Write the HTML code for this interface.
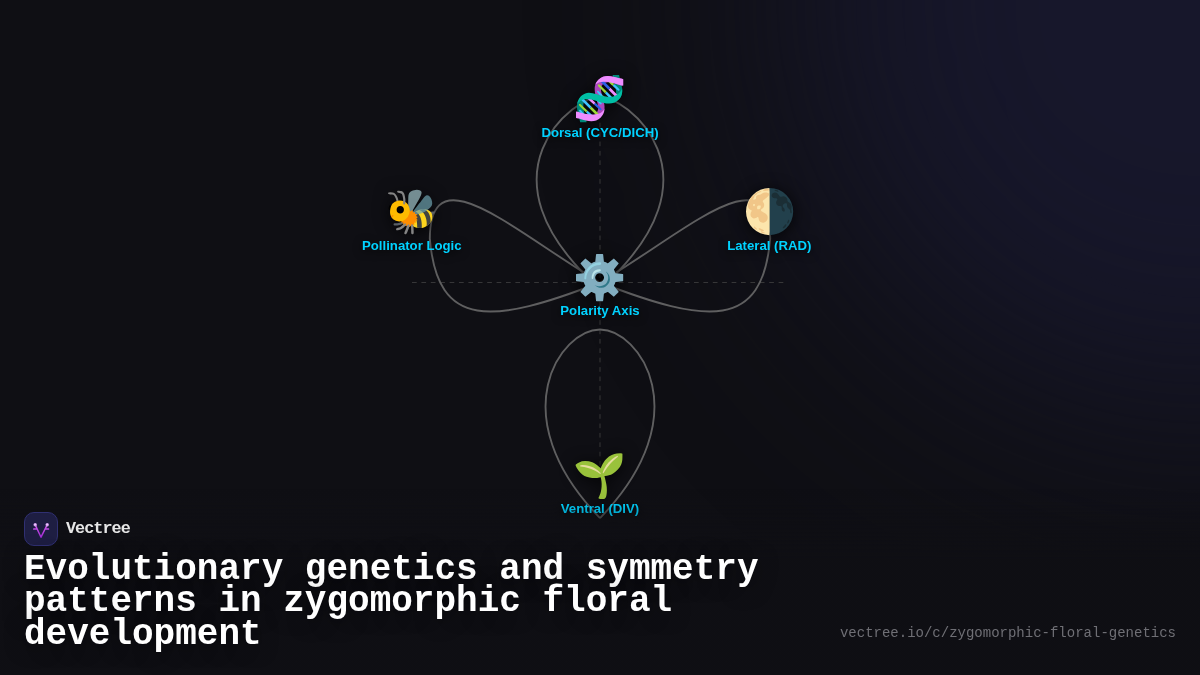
<!DOCTYPE html>
<html lang="en">
<head>
<meta charset="utf-8">
<title>Evolutionary genetics and symmetry patterns in zygomorphic floral development</title>
<style>
*{box-sizing:border-box;margin:0;padding:0}
html,body{width:1200px;height:675px;overflow:hidden;background:#0f0f14}
body{position:relative;font-family:"Liberation Sans",sans-serif}
.bg{position:absolute;left:0;top:0;width:1200px;height:675px;overflow:hidden;background:#0f0f14}
.orb{position:absolute;left:790px;top:-410px;width:820px;height:820px;border-radius:50%;background:rgb(23,23,43);filter:blur(115px)}
.layer{position:absolute;left:0;top:0;width:1200px;height:675px;will-change:transform}
.petals{position:absolute;left:0;top:0;width:1200px;height:675px}
.ico{position:absolute;display:block;overflow:visible;filter:drop-shadow(0 2px 8px rgba(0,0,0,.8))}
.lbl{position:absolute;transform:translateX(-50%);white-space:nowrap;font:700 13.2px/16px "Liberation Sans",sans-serif;color:#00d2ff;text-shadow:0 2px 8px rgba(0,0,0,.8)}
.fade{position:absolute;left:0;top:488px;width:1200px;height:187px;background:linear-gradient(to bottom,rgba(15,15,20,0) 0,rgba(15,15,20,.015) 9px,rgba(15,15,20,.055) 16px,rgba(15,15,20,.205) 25px,rgba(15,15,20,.3) 30px,rgba(15,15,20,.6) 45px,rgba(15,15,20,.85) 60px,rgba(15,15,20,.97) 72px,rgba(15,15,20,.97) 100%)}
.brand{position:absolute;left:24px;top:512px;display:flex;align-items:center}
.logo{width:34px;height:34px;border-radius:10px;background:#1e1e42;border:1px solid #303072;display:block;position:relative}
.logo svg{position:absolute;left:-1px;top:-1px;width:34px;height:34px;display:block}
.brand span{margin-left:8px;font:700 16.8px/20px "Liberation Mono",monospace;letter-spacing:-0.95px;color:#e6e6e6}
h1{position:absolute;left:24px;top:553.9px;width:800px;font:700 36px/32.4px "Liberation Mono",monospace;color:#fff;letter-spacing:0;text-shadow:0 2px 20px rgba(0,0,0,.5)}
.url{position:absolute;right:24px;top:624px;font:400 14px/18px "Liberation Mono",monospace;color:#6f6f75}
</style>
</head>
<body>
<div class="bg"><div class="orb"></div></div>
<svg class="petals" viewBox="0 0 1200 675" fill="none" stroke="#5f5f60" stroke-width="1.88">
  <g stroke="#3a3a3b" stroke-width="0.94" stroke-dasharray="4.7 4.7">
    <path d="M600,94.5 V470.5"/>
    <path d="M412,282.5 H788"/>
  </g>
  <path d="M600,288.9 C469.8,173.6 577,94.9 600,96.8 C623,94.9 730.2,173.6 600,288.9"/>
  <path d="M600,282.5 C513.2,230.7 430.4,152.5 429.8,238.7 C437.6,330.2 492.2,324.2 600,282.5"/>
  <path d="M600,282.5 C686.8,230.7 769.6,152.5 770.2,238.7 C762.4,330.2 707.8,324.2 600,282.5"/>
  <path d="M600,518.1 C500,414.7 561,329.5 600,329.5 C639,329.5 700,414.7 600,518.1"/>
</svg>
<div class="layer">
<svg class="ico" role="img" aria-label="🧬" style="left:575.90px;top:74.90px" width="47.2" height="47.2" viewBox="75 -913 1125 1125"><title>🧬</title><path d="M186,-387Q135,-336 115.5,-277Q96,-218 98,-155.5Q100,-93 114,-30.5Q128,32 144,91Q154,125 161.5,155Q169,185 174,212L327,212Q321,172 310.5,131Q300,90 290,51Q278,10 266,-43.5Q254,-97 250,-155.5Q246,-214 256,-270Q266,-326 298,-372Q322,-407 349,-431Q376,-455 411,-467Q352,-467 294,-452Q236,-437 186,-387Z" fill="#00897B"/><path d="M1131,-791Q1122,-825 1114.5,-855Q1107,-885 1102,-913L948,-913Q955,-872 965.5,-831Q976,-790 986,-751Q1010,-664 1024.5,-572.5Q1039,-481 1026,-391Q1024,-372 1015.5,-348Q1007,-324 997,-301.5Q987,-279 979.5,-264.5Q972,-250 972,-250Q972,-250 988,-256Q1004,-262 1026,-275Q1059,-294 1087,-322Q1138,-373 1158,-430.5Q1178,-488 1176.5,-549Q1175,-610 1161.5,-671.5Q1148,-733 1131,-791Z" fill="#00897B"/><path d="M716,-693Q751,-728 796.5,-735.5Q842,-743 901.5,-731.5Q961,-720 1038,-699Q1078,-688 1118.5,-677.5Q1159,-667 1200,-661L1200,-814Q1173,-819 1142.5,-827Q1112,-835 1079,-844Q1020,-860 959,-873.5Q898,-887 837,-888.5Q776,-890 718.5,-870.5Q661,-851 610,-799Q558,-748 538.5,-690.5Q519,-633 520.5,-572.5Q522,-512 535.5,-450.5Q549,-389 565,-331Q586,-253 597.5,-193.5Q609,-134 601.5,-88.5Q594,-43 559,-8Q554,-3 540.5,6Q527,15 513,22.5Q499,30 492,31Q518,29 549.5,29.5Q581,30 612,28Q643,26 666,13Q709,-10 729.5,-44Q750,-78 754,-118.5Q758,-159 751,-203Q744,-247 732,-290Q720,-333 710,-370Q689,-448 677.5,-507.5Q666,-567 673.5,-612.5Q681,-658 716,-693Z" fill="#AB47BC"/><path d="M359,114L273,15L233,55L314,160Q323,169 336,169Q350,169 359,160L359,160Q368,150 368,136.5Q368,123 359,114Z" fill="#F9A825"/><path d="M160,-83Q146,-73 149,-61Q152,-49 156,-45L233,55L273,15L196,-74Q192,-78 180.5,-84Q169,-90 160,-83Z" fill="#40C4FF"/><path d="M514,90L351,-63L311,-24L469,135Q478,145 492,145Q505,145 514,135Q524,126 524,112.5Q524,99 514,90Z" fill="#40C4FF"/><path d="M152,-219Q141,-209 146.5,-197Q152,-185 160,-176L311,-24L351,-63L198,-205Q189,-214 175.5,-221Q162,-228 152,-219Z" fill="#9ED839"/><path d="M604,0L446,-158L400,-113L559,45Q568,55 581.5,55Q595,55 604,45Q613,36 613,22.5Q613,9 604,0Z" fill="#9ED839"/><path d="M176,-350Q176,-337 186,-327L400,-113L446,-158L232,-373Q222,-382 208.5,-382Q195,-382 186,-373Q176,-363 176,-350Z" fill="#40C4FF"/><path d="M672,-123L539,-251L499,-211L648,-78Q657,-68 668,-73.5Q679,-79 679,-79Q688,-88 684.5,-101Q681,-114 672,-123Z" fill="#2E5FE6"/><path d="M319,-388Q319,-374 328,-365L499,-211L539,-251L374,-410Q364,-420 351,-420Q338,-420 328,-410Q319,-401 319,-388Z" fill="#EE8CFF"/><path d="M673,-258L618,-330L579,-291Q601,-269 619,-250.5Q637,-232 642,-227Q657,-212 668.5,-212Q680,-212 685,-219Q691,-226 686.5,-237.5Q682,-249 673,-258Z" fill="#40C4FF"/><path d="M471,-415Q471,-402 480,-392Q480,-392 495,-376.5Q510,-361 533,-338Q556,-315 579,-291L618,-330L579,-379L526,-438Q516,-447 503,-447Q490,-447 480,-438Q471,-428 471,-415Z" fill="#F9A825"/><path d="M808,-335L715,-428L677,-389Q698,-364 717.5,-341Q737,-318 749.5,-303.5Q762,-289 762,-289Q772,-280 785.5,-280Q799,-280 808,-289L808,-289Q817,-299 817,-312.5Q817,-326 808,-335Z" fill="#9ED839"/><path d="M584,-537Q572,-529 578,-514.5Q584,-500 588,-495Q593,-488 619.5,-456.5Q646,-425 677,-389L715,-428L707,-436L615,-528Q611,-532 601.5,-537.5Q592,-543 584,-537Z" fill="#40C4FF"/><path d="M963,-359L805,-518L765,-477L918,-314Q927,-304 940.5,-304Q954,-304 963,-314Q973,-323 973,-336.5Q973,-350 963,-359Z" fill="#40C4FF"/><path d="M597,-680Q592,-672 597.5,-661Q603,-650 607,-645L765,-477L805,-518L643,-680Q626,-694 615.5,-692.5Q605,-691 597,-680Z" fill="#9ED839"/><path d="M1053,-449L895,-608L850,-562L1008,-403Q1017,-394 1030.5,-394Q1044,-394 1053,-403Q1063,-413 1063,-426.5Q1063,-440 1053,-449Z" fill="#EE8CFF"/><path d="M658,-768Q658,-761 657.5,-758.5Q657,-756 661,-751L850,-562L895,-608L713,-791Q704,-800 690.5,-800Q677,-800 667,-791Q658,-781 658,-768Z" fill="#2E5FE6"/><path d="M1083,-601L985,-698L946,-658Q985,-622 1017.5,-593Q1050,-564 1059,-556Q1082,-538 1093.5,-538.5Q1105,-539 1111,-549Q1117,-559 1109,-571.5Q1101,-584 1083,-601Z" fill="#40C4FF"/><path d="M768,-836Q768,-823 777,-814Q777,-814 792,-800Q807,-786 832,-763Q857,-740 886.5,-712.5Q916,-685 946,-658L985,-698L823,-859Q813,-869 799.5,-869Q786,-869 777,-859Q768,-850 768,-836Z" fill="#9ED839"/><path d="M659,-10Q612,13 555.5,22Q499,31 441.5,29Q384,27 331,18Q278,9 237,-2Q197,-13 156.5,-23.5Q116,-34 75,-40L75,113Q102,118 132.5,126Q163,134 196,143Q255,159 316,173Q377,187 438,188Q499,189 556.5,169.5Q614,150 665,98Q715,49 735,-7.5Q755,-64 755,-123Q743,-89 720,-59Q697,-29 659,-10Z" fill="#EE8CFF"/><path d="M671,-748Q731,-756 794,-749.5Q857,-743 918.5,-729Q980,-715 1038,-699Q1078,-688 1118.5,-677.5Q1159,-667 1200,-661L1200,-814Q1173,-820 1142.5,-827.5Q1112,-835 1079,-844Q1020,-860 959,-874Q898,-888 837,-889Q776,-890 718.5,-870.5Q661,-851 610,-800Q582,-771 562,-739Q549,-717 543,-701Q537,-685 537,-685Q537,-685 554.5,-698.5Q572,-712 602.5,-727.5Q633,-743 671,-748Z" fill="#EE8CFF"/><path d="M1087,-322Q1134,-369 1153.5,-415Q1173,-461 1176,-499.5Q1179,-538 1176,-564Q1173,-590 1174,-597Q1168,-566 1147.5,-535Q1127,-504 1104,-483Q1038,-422 965.5,-402.5Q893,-383 816,-391.5Q739,-400 658,-422Q650,-425 623.5,-435Q597,-445 558,-457.5Q519,-470 473.5,-479Q428,-488 382,-488.5Q336,-489 296,-474Q246,-456 212,-425Q178,-394 156,-358.5Q134,-323 122.5,-291.5Q111,-260 106.5,-239.5Q102,-219 102,-219Q137,-272 184.5,-298.5Q232,-325 285,-332Q338,-339 390.5,-333.5Q443,-328 489.5,-316.5Q536,-305 569.5,-293Q603,-281 618,-277Q676,-261 737.5,-247.5Q799,-234 860,-232.5Q921,-231 978.5,-251Q1036,-271 1087,-322Z" fill="#00BFA5"/></svg>
<div class="lbl" style="left:600.00px;top:125.01px">Dorsal (CYC/DICH)</div>
<svg class="ico" role="img" aria-label="🐝" style="left:387.70px;top:187.90px" width="47.2" height="47.2" viewBox="75 -913 1125 1125"><title>🐝</title><path d="M1086,-344L1124,-256Q1124,-256 1135.5,-268.5Q1147,-281 1162,-298.5Q1177,-316 1188,-331Q1199,-346 1197,-351Q1195,-353 1178.5,-352.5Q1162,-352 1140,-350Q1118,-348 1102,-346Q1086,-344 1086,-344Z" fill="#5C6063"/><path d="M694,-312L663,-16Q663,-16 676.5,-4Q690,8 721.5,21Q753,34 809,38Q878,44 930,26Q982,8 1019.5,-22.5Q1057,-53 1084,-86Q1122,-132 1130,-192.5Q1138,-253 1116,-311Q1102,-347 1059.5,-371Q1017,-395 962.5,-404Q908,-413 855,-401Q803,-390 767,-368.5Q731,-347 712.5,-329.5Q694,-312 694,-312Z" fill="#FCD41E"/><path d="M966,-234Q949,-279 925,-309Q901,-339 877,-357.5Q853,-376 837,-384Q821,-392 821,-392Q821,-392 843,-399Q865,-406 888,-409Q911,-411 928,-408.5Q945,-406 945,-406Q945,-406 966,-394Q987,-382 1014.5,-355Q1042,-328 1061,-284Q1075,-251 1081.5,-217Q1088,-183 1089.5,-154.5Q1091,-126 1090,-108.5Q1089,-91 1089,-91Q1089,-91 1079.5,-78.5Q1070,-66 1055,-51Q1043,-40 1029,-29.5Q1015,-19 1005,-12.5Q995,-6 995,-6Q995,-6 996.5,-16.5Q998,-27 999,-54Q999,-81 993,-130.5Q987,-180 966,-234Z" fill="#414340"/><path d="M739,-351L694,-315L688,-254Q688,-254 698.5,-241Q709,-228 722.5,-209Q736,-190 743,-172Q757,-141 762.5,-105.5Q768,-70 769.5,-38.5Q771,-7 770,13.5Q769,34 769,34Q769,34 788.5,37.5Q808,41 823,41Q845,42 862.5,40Q880,38 880,38Q880,38 880.5,13Q881,-12 879,-52Q877,-92 869,-136Q861,-180 845,-219Q824,-268 799.5,-297Q775,-326 757,-338.5Q739,-351 739,-351Z" fill="#414340"/><path d="M412,-110L476,-80Q476,-80 449,-67Q422,-54 391,-42Q359,-31 325,-24.5Q291,-18 266,-17Q250,-16 229.5,-17.5Q209,-19 208,-37Q206,-58 215,-64Q224,-70 233,-71Q242,-71 266.5,-73Q291,-75 323,-81Q344,-86 364.5,-92.5Q385,-99 398.5,-104.5Q412,-110 412,-110Z" fill="#5A6066"/><path d="M659,-338L682,-268Q682,-268 722.5,-274.5Q763,-281 837,-300Q873,-309 913,-328.5Q953,-348 990,-372.5Q1027,-397 1057,-422.5Q1087,-448 1103,-469Q1128,-500 1129,-544.5Q1130,-589 1114,-635Q1098,-682 1068.5,-710.5Q1039,-739 1004,-738Q981,-737 960,-719Q939,-701 921,-676.5Q903,-652 890,-634Q883,-625 863.5,-599.5Q844,-574 817.5,-540.5Q791,-507 763.5,-472Q736,-437 712,-406.5Q688,-376 673.5,-357Q659,-338 659,-338Z" fill="#6DA3AF" opacity="0.7"/><path d="M651,-357L652,-304L546,-320L558,-433Q558,-433 557.5,-457Q557,-481 557,-519.5Q557,-558 557,-600.5Q557,-643 558.5,-682Q560,-721 564,-745Q571,-802 617.5,-829.5Q664,-857 726,-866Q787,-875 828,-857Q869,-839 874,-817Q880,-788 863,-748.5Q846,-709 823,-664Q814,-646 794,-610Q774,-574 749.5,-530.5Q725,-487 702.5,-447.5Q680,-408 665.5,-382.5Q651,-357 651,-357Z" fill="#A1C5CB" opacity="0.7"/><path d="M170,-505L143,-384Q143,-384 132.5,-383Q122,-382 110,-387Q98,-392 92,-409Q86,-426 95,-462Q102,-492 114.5,-503Q127,-514 139.5,-514Q152,-514 161,-509.5Q170,-505 170,-505Z"/><path d="M327,-598L282,-584Q282,-584 277.5,-600Q273,-616 267.5,-636.5Q262,-657 257,-669Q253,-681 243.5,-699Q234,-717 222.5,-732.5Q211,-748 201,-751Q192,-753 170.5,-755.5Q149,-758 127,-761Q111,-762 93,-767Q75,-772 75,-790Q75,-805 91.5,-807Q108,-809 129,-809Q159,-808 186,-804.5Q213,-801 224,-795Q235,-789 255,-766.5Q275,-744 292,-710Q303,-687 311,-661Q319,-635 323,-616.5Q327,-598 327,-598Z" fill="#848484"/><path d="M587,-395L506,-309L399,-139Q399,-139 397,-128.5Q395,-118 393.5,-106.5Q392,-95 393,-92Q395,-90 405.5,-89.5Q416,-89 426.5,-89.5Q437,-90 437,-90Q437,-90 437,-78.5Q437,-67 438,-52Q439,-37 440.5,-24.5Q442,-12 444,-11Q447,-9 464,-9.5Q481,-10 497.5,-11.5Q514,-13 514,-13L543,15Q543,15 551.5,17.5Q560,20 579,16Q591,14 604.5,3Q618,-8 628,-17.5Q638,-27 638,-27Q638,-27 648,-29.5Q658,-32 672,-35Q686,-38 697,-41Q708,-44 709,-45Q711,-47 706,-57Q701,-67 695.5,-76Q690,-85 690,-85Q690,-85 701.5,-85Q713,-85 725.5,-86Q738,-87 739,-89Q740,-91 738,-102.5Q736,-114 734,-125Q732,-136 732,-136Q732,-136 742.5,-136.5Q753,-137 764,-139.5Q775,-142 776,-146Q777,-150 770.5,-160.5Q764,-171 757,-179.5Q750,-188 750,-188Q750,-188 757.5,-194Q765,-200 773,-207.5Q781,-215 781,-218Q782,-221 772.5,-228Q763,-235 754,-241Q745,-247 745,-247Q745,-247 750.5,-256Q756,-265 761,-275Q766,-285 765,-287Q765,-289 753,-290.5Q741,-292 729.5,-293Q718,-294 718,-294Q718,-294 718.5,-304Q719,-314 718.5,-324.5Q718,-335 715,-337Q713,-339 702.5,-337Q692,-335 682.5,-333Q673,-331 673,-331Q673,-331 670,-344.5Q667,-358 663,-372Q659,-386 657,-386Q654,-387 642.5,-378.5Q631,-370 621,-362Q611,-354 611,-354Z" fill="#FE8D00"/><path d="M501,-64Q516,-53 510,-38Q504,-23 498,-17Q493,-13 479,-0.5Q465,12 449.5,26Q434,40 424,47Q413,56 387,69Q361,82 336,89Q311,96 292,95.5Q273,95 269,81Q265,69 269,57.5Q273,46 307,37Q345,27 368,14Q391,1 404.5,-12Q418,-25 430,-34Q438,-40 449.5,-50.5Q461,-61 474.5,-67Q488,-73 501,-64Z" fill="#848484"/><path d="M572,-43Q590,-36 588.5,-19Q587,-2 585,5Q581,16 570,52Q566,64 558,85Q550,106 541.5,126.5Q533,147 529,156Q522,170 510.5,184Q499,198 476,186Q462,179 463,165Q464,151 471,135Q478,119 483,108Q488,97 496,76Q504,55 512,33Q520,11 525,-5Q534,-29 545,-39.5Q556,-50 572,-43Z" fill="#848484"/><path d="M645,-47Q665,-49 672.5,-36Q680,-23 681,-6.5Q682,10 682,17Q683,23 683.5,42Q684,61 685.5,83.5Q687,106 687.5,123.5Q688,141 688,145Q687,151 686,161.5Q685,172 679,181Q673,190 658,190Q635,191 631,174.5Q627,158 628,145Q628,136 627.5,110.5Q627,85 625.5,58.5Q624,32 623,19Q622,6 621.5,-8.5Q621,-23 625.5,-34Q630,-45 645,-47Z" fill="#848484"/><path d="M185,-542Q237,-597 307.5,-610Q378,-623 451,-598Q511,-576 546,-527Q581,-478 589.5,-417Q598,-356 581,-299Q555,-210 488.5,-161Q422,-112 339,-115Q255,-119 206.5,-159.5Q158,-200 135,-264Q124,-296 123.5,-336Q123,-376 131,-416.5Q139,-457 153,-490.5Q167,-524 185,-542Z" fill="#FEBB00"/><path d="M455,-394Q455,-431 431.5,-457.5Q408,-484 368,-484Q331,-484 305.5,-457.5Q280,-431 280,-394Q280,-350 305.5,-326.5Q331,-303 368,-303Q404,-303 429.5,-329.5Q455,-356 455,-394Z"/><path d="M162,-250Q146,-235 155,-222Q160,-214 169,-215.5Q178,-217 183,-222Q186,-224 193.5,-231Q201,-238 205,-247.5Q209,-257 201,-265Q193,-274 185,-271Q177,-268 171,-260.5Q165,-253 162,-250Z" fill="#FE8D00"/><path d="M293,-830Q295,-845 307,-847Q319,-849 339,-847Q362,-845 388,-839Q414,-833 427,-823Q438,-815 448.5,-801.5Q459,-788 466,-764Q482,-709 487,-660Q491,-624 490,-604Q489,-584 487,-557Q485,-534 476.5,-525.5Q468,-517 457,-518Q444,-520 439.5,-530.5Q435,-541 436,-557Q437,-576 437.5,-600Q438,-624 436,-650Q432,-700 420,-736Q408,-772 401,-776Q396,-780 381.5,-784.5Q367,-789 351,-793Q335,-797 324,-800Q306,-805 298.5,-811Q291,-817 293,-830Z" fill="#848484"/></svg>
<div class="lbl" style="left:411.80px;top:237.60px">Pollinator Logic</div>
<svg class="ico" role="img" aria-label="🌗" style="left:745.60px;top:187.90px" width="47.2" height="47.2" viewBox="75 -913 1125 1125"><title>🌗</title><path d="M75,-350Q75,-467 118.5,-568.5Q162,-670 239.5,-747.5Q317,-825 419,-869Q521,-913 638,-913Q638,-913 644.5,-855Q651,-797 658,-674Q665,-551 665,-354Q665,-157 658,-32Q651,93 644.5,152.5Q638,212 638,212Q521,212 419,168.5Q317,125 239.5,47.5Q162,-30 118.5,-131.5Q75,-233 75,-350Z" fill="#FCE5AC"/><path d="M1200,-350Q1200,-233 1156.5,-131.5Q1113,-30 1035.5,47.5Q958,125 856,168.5Q754,212 638,212L638,-913Q754,-913 856,-869Q958,-825 1035.5,-747.5Q1113,-670 1156.5,-568.5Q1200,-467 1200,-350Z" fill="#22404C"/><path d="M622,-870Q622,-879 599.5,-886.5Q577,-894 547,-891Q516,-888 497.5,-877Q479,-866 481,-856Q483,-847 504,-845Q525,-843 553,-845Q581,-848 601.5,-854Q622,-860 622,-870Z" fill="#F1C688"/><path d="M1157,-392Q1157,-383 1159.5,-373.5Q1162,-364 1163,-355Q1165,-346 1165.5,-334.5Q1166,-323 1160,-316Q1154,-310 1145,-312Q1136,-314 1129,-332Q1125,-343 1128.5,-356Q1132,-369 1123,-387Q1114,-405 1095,-418.5Q1076,-432 1064,-453Q1052,-475 1052.5,-494.5Q1053,-514 1052,-527.5Q1051,-541 1034,-547Q1014,-554 993,-542.5Q972,-531 959.5,-511.5Q947,-492 951,-474Q955,-459 965.5,-448Q976,-437 986.5,-422.5Q997,-408 998,-381Q999,-372 997.5,-362.5Q996,-353 988,-350Q982,-347 972,-350Q941,-357 933.5,-380Q926,-403 926,-435Q926,-448 926,-456.5Q926,-465 921,-473Q914,-483 898.5,-484Q883,-485 871,-484Q844,-482 821,-503Q798,-524 795,-551Q791,-577 797.5,-593.5Q804,-610 812.5,-620.5Q821,-631 824.5,-639Q828,-647 816,-658Q807,-667 795.5,-667.5Q784,-668 770,-667.5Q756,-667 739,-672Q722,-677 702,-695Q692,-703 689,-716.5Q686,-730 687,-743Q688,-773 715.5,-790.5Q743,-808 773,-804Q802,-800 825.5,-780.5Q849,-761 864,-735Q870,-727 876,-718Q882,-709 892,-705Q904,-700 916.5,-704.5Q929,-709 942,-713Q967,-720 993,-711.5Q1019,-703 1037.5,-683.5Q1056,-664 1061,-638Q1063,-625 1064,-611.5Q1065,-598 1074,-589Q1079,-583 1085.5,-580Q1092,-577 1098,-574Q1136,-554 1150,-527.5Q1164,-501 1163.5,-469.5Q1163,-438 1157,-404Q1156,-399 1157,-392Z" fill="#1B2E35"/><path d="M265,7Q259,14 265,29Q271,44 286,57.5Q301,71 324,75Q331,76 336,70.5Q341,65 333,58Q324,50 307.5,34.5Q291,19 284,12Q276,5 271,5Q266,5 265,7Z" fill="#F1C688"/><path d="M432,123Q429,132 440,143.5Q451,155 469.5,162.5Q488,170 511,166Q518,164 521,157Q524,150 513,146Q503,142 481.5,133.5Q460,125 451,121Q442,117 437,119Q432,121 432,123Z" fill="#F1C688"/><path d="M490,89Q485,85 468,75Q451,65 431.5,56Q412,47 396.5,44.5Q381,42 378,52Q376,61 384,71Q392,81 403,88.5Q414,96 421,100Q450,116 482,115Q487,115 492,113.5Q497,112 499,107Q501,102 498,97Q495,92 490,89Z" fill="#F1C688"/><path d="M1015,-45Q1025,-56 1032.5,-50Q1040,-44 1039,-35Q1036,-6 1019.5,13.5Q1003,33 983.5,41.5Q964,50 954,44Q952,43 951.5,36Q951,29 959,20Q964,13 975,0.5Q986,-12 997.5,-25Q1009,-38 1015,-45Z" fill="#1B2E35"/><path d="M1084,-151Q1088,-162 1095.5,-159Q1103,-156 1105,-149Q1110,-126 1102,-106.5Q1094,-87 1081.5,-76Q1069,-65 1059,-67Q1058,-67 1055.5,-72.5Q1053,-78 1057,-87Q1061,-96 1070.5,-118Q1080,-140 1084,-151Z" fill="#1B2E35"/><path d="M767,-869Q790,-874 809.5,-867Q829,-860 840,-847.5Q851,-835 849,-825Q848,-824 843,-821.5Q838,-819 829,-823Q819,-826 797.5,-835Q776,-844 765,-848Q754,-852 757,-859.5Q760,-867 767,-869Z" fill="#1B2E35"/><path d="M567,-805Q608,-797 620,-782Q632,-767 625,-749.5Q618,-732 603.5,-716Q589,-700 578,-691Q557,-673 534,-657Q511,-641 494.5,-627.5Q478,-614 475,-604Q472,-591 480.5,-579Q489,-567 496,-555Q511,-532 508.5,-503Q506,-474 491,-451Q480,-434 463.5,-424Q447,-414 437,-403Q427,-392 436,-372Q442,-359 458.5,-350Q475,-341 496,-331.5Q517,-322 538,-308Q559,-294 575,-270Q595,-240 593,-200.5Q591,-161 569,-132Q546,-102 508.5,-91Q471,-80 437,-94Q420,-100 400.5,-120Q381,-140 373,-197Q372,-209 368.5,-217.5Q365,-226 348,-219Q341,-217 334.5,-211.5Q328,-206 321,-202Q292,-184 263,-183.5Q234,-183 205,-219Q192,-236 185.5,-259.5Q179,-283 186,-313Q188,-321 195,-334.5Q202,-348 206.5,-360.5Q211,-373 206,-380Q202,-384 197,-386Q192,-388 187,-390Q152,-399 136,-429Q120,-459 120,-494Q120,-512 130,-543Q140,-574 155,-608Q170,-642 186,-670Q202,-698 216,-712Q228,-725 243.5,-729Q259,-733 265,-739Q271,-745 281.5,-764Q292,-783 311,-794Q328,-803 348,-809Q368,-815 384,-827Q398,-838 413.5,-837Q429,-836 439,-836Q450,-835 435,-822.5Q420,-810 398,-806Q387,-804 376,-801Q365,-798 356,-791Q347,-784 341.5,-774Q336,-764 328,-757Q316,-747 300.5,-741.5Q285,-736 277,-723Q272,-715 271.5,-705.5Q271,-696 269,-687Q266,-679 262,-673.5Q258,-668 253,-662Q245,-649 247.5,-640.5Q250,-632 267,-634Q281,-635 296.5,-643.5Q312,-652 315,-670Q317,-682 315.5,-693Q314,-704 319.5,-716Q325,-728 348,-743Q365,-753 376.5,-753.5Q388,-754 398,-753Q408,-752 419,-756Q432,-762 449.5,-777Q467,-792 494.5,-802.5Q522,-813 567,-805ZM281,-492Q283,-496 285.5,-502.5Q288,-509 288,-515Q289,-528 279,-532Q270,-536 259.5,-531Q249,-526 246,-517Q239,-501 250,-487Q257,-477 267,-479Q272,-479 275.5,-483Q279,-487 281,-492ZM427,-464Q428,-473 427,-481Q426,-489 420,-493Q415,-496 404,-495.5Q393,-495 388,-495Q378,-494 369,-493.5Q360,-493 352,-486Q341,-475 340,-459Q339,-443 340,-428Q340,-425 341,-421.5Q342,-418 344,-415Q349,-406 359,-405.5Q369,-405 379,-406Q384,-407 388.5,-408Q393,-409 397,-411Q407,-416 412.5,-425.5Q418,-435 421,-445Q423,-449 424.5,-454Q426,-459 427,-464Z" fill="#F1C688"/></svg>
<div class="lbl" style="left:769.30px;top:237.60px">Lateral (RAD)</div>
<svg class="ico" role="img" aria-label="⚙️" style="left:575.90px;top:253.80px" width="47.2" height="47.2" viewBox="75 -913 1125 1125"><title>⚙️</title><path d="M1200,-276Q1200,-267 1190,-266L1023,-248Q1016,-247 1014,-240Q1002,-199 981,-161Q978,-155 982,-149L1088,-19Q1094,-11 1087,-4L983,100Q976,107 969,101L838,-5Q832,-10 826,-6Q789,14 747,27Q740,29 740,36L722,203Q721,212 711,212L564,212Q554,212 553,203L535,35Q535,28 528,26Q486,14 449,-6Q442,-10 437,-5L306,100Q299,107 292,100L188,-4Q181,-11 187,-19L293,-149Q297,-155 294,-161Q273,-199 261,-240Q259,-247 252,-248L85,-266Q75,-267 75,-276L75,-424Q75,-433 85,-434L252,-452Q259,-453 261,-460Q273,-501 294,-539Q297,-545 293,-551L187,-681Q181,-689 188,-696L292,-800Q299,-807 306,-801L437,-695Q443,-690 449,-694Q486,-714 528,-727Q535,-729 535,-736L553,-903Q554,-913 564,-913L711,-913Q721,-913 722,-903L740,-736Q740,-728 747,-726Q789,-714 826,-694Q832,-690 838,-695L969,-800Q976,-807 983,-800L1087,-696Q1094,-689 1088,-681L982,-551Q978,-545 981,-539Q1002,-501 1014,-460Q1016,-453 1023,-452L1190,-434Q1200,-433 1200,-424ZM638,-244Q681,-244 712,-275Q743,-306 743,-350Q743,-394 712,-425Q681,-456 638,-456Q594,-456 563,-425Q532,-394 532,-350Q532,-306 563,-275Q594,-244 638,-244Z" fill="#82AEC0"/><path d="M793,-486Q791,-488 792.5,-489.5Q794,-491 797,-490Q840,-459 864,-408.5Q888,-358 883,-299Q878,-249 851.5,-207.5Q825,-166 783,-139.5Q741,-113 690,-109Q641,-105 597.5,-122.5Q554,-140 523,-172Q521,-174 522.5,-175.5Q524,-177 526,-176Q552,-159 582.5,-150.5Q613,-142 647,-144Q699,-146 742.5,-172.5Q786,-199 813.5,-242Q841,-285 844,-338Q846,-380 832.5,-418.5Q819,-457 793,-486Z" fill="#2F7889"/><path d="M449,-338Q449,-335 452.5,-325Q456,-315 471,-317Q484,-318 485.5,-328Q487,-338 488,-341Q491,-376 503.5,-409Q516,-442 547,-466Q578,-490 636,-498Q640,-499 647,-500Q654,-501 660,-507Q675,-524 660,-543Q654,-549 647.5,-550Q641,-551 636,-551Q579,-551 535.5,-523.5Q492,-496 469,-447.5Q446,-399 449,-338Z" fill="#B9E4EA"/><path d="M274,-332Q274,-328 276,-322L276,-322Q283,-309 298,-309.5Q313,-310 318,-324L319,-326Q320,-330 320,-334Q320,-398 345.5,-455Q371,-512 415.5,-555.5Q460,-599 518,-624.5Q576,-650 641,-653Q644,-653 655,-655Q666,-657 672,-672Q682,-693 665,-708Q657,-715 646.5,-716.5Q636,-718 632,-717Q553,-714 488,-683Q423,-652 375,-599.5Q327,-547 300.5,-478.5Q274,-410 274,-332Z" fill="#94D1E0"/></svg>
<div class="lbl" style="left:600.00px;top:302.71px">Polarity Axis</div>
<svg class="ico" role="img" aria-label="🌱" style="left:575.90px;top:451.80px" width="47.2" height="47.2" viewBox="75 -913 1125 1125"><title>🌱</title><path d="M670,-498L750,-356Q750,-356 755,-334.5Q760,-313 768,-280Q776,-247 784,-210.5Q792,-174 798,-145Q813,-69 811.5,1.5Q810,72 802,113Q800,124 795,142.5Q790,161 780.5,177.5Q771,194 757,199Q744,204 721,207Q698,210 673.5,209.5Q649,209 630,203Q612,197 611.5,186.5Q611,176 618,163Q625,150 630,139Q635,127 646.5,99.5Q658,72 669,26.5Q680,-19 685,-86Q690,-156 683,-209.5Q676,-263 668,-294Q660,-325 660,-325Z" fill="#99C23B"/><path d="M664,-524L681,-374Q681,-374 681,-367.5Q681,-361 687.5,-353Q694,-345 712,-340.5Q730,-336 766,-340Q814,-345 861,-357.5Q908,-370 959.5,-402Q1011,-434 1072,-496Q1130,-554 1153,-614Q1176,-674 1179.5,-730.5Q1183,-787 1182,-836Q1182,-847 1182.5,-857.5Q1183,-868 1173,-875Q1163,-883 1135,-883.5Q1107,-884 1047,-876Q993,-870 927.5,-842Q862,-814 796,-746Q761,-710 736,-671.5Q711,-633 695,-599.5Q679,-566 671.5,-545Q664,-524 664,-524Z" fill="#99C23B"/><path d="M65,-603Q67,-609 88,-626.5Q109,-644 149,-665Q212,-699 297.5,-698Q383,-697 464,-667Q503,-653 539,-629Q575,-605 603,-581Q631,-557 647,-540.5Q663,-524 663,-524L708,-502L693,-321Q693,-321 663,-312Q633,-303 581,-295.5Q529,-288 463.5,-291.5Q398,-295 327,-321Q275,-340 232.5,-372.5Q190,-405 158.5,-442.5Q127,-480 106,-514.5Q85,-549 74.5,-573.5Q64,-598 65,-603Z" fill="#99C23B"/><path d="M850,-662Q895,-715 939.5,-749Q984,-783 1016.5,-800Q1049,-817 1056,-820Q1067,-825 1073,-817Q1079,-809 1071,-801Q1066,-794 1045.5,-776Q1025,-758 997,-733Q969,-708 938.5,-678.5Q908,-649 882,-620Q842,-574 811.5,-530.5Q781,-487 761,-455.5Q741,-424 733,-413Q727,-405 719,-406Q711,-407 714,-428Q717,-441 732.5,-477Q748,-513 777.5,-562Q807,-611 850,-662Z" fill="#E6DC9F"/><path d="M426,-566Q496,-541 546.5,-509Q597,-477 625.5,-451Q654,-425 659,-419Q669,-406 664,-396Q659,-386 647,-393Q640,-398 609.5,-418.5Q579,-439 530.5,-465.5Q482,-492 421,-514Q334,-545 271,-555Q208,-565 191,-567Q174,-569 173,-580.5Q172,-592 186,-597Q196,-600 228.5,-601Q261,-602 311.5,-595Q362,-588 426,-566Z" fill="#E6DC9F"/></svg>
<div class="lbl" style="left:600.00px;top:501.11px">Ventral (DIV)</div>
<div class="fade"></div>
<div class="brand"><div class="logo"><svg viewBox="0 0 34 34" fill="none"><defs><linearGradient id="lg" x1="0" y1="11" x2="0" y2="26" gradientUnits="userSpaceOnUse"><stop offset="0" stop-color="#e3b4f7"/><stop offset=".3" stop-color="#c950ea"/><stop offset="1" stop-color="#9a27cf"/></linearGradient></defs><path d="M11.3,13 L17,25.2 L23.1,13 M12.9,16.8 L9.8,17.1 M21.4,16.8 L24.5,17.1" stroke="url(#lg)" stroke-width="1.5" stroke-linecap="round" stroke-linejoin="round"/><circle cx="11.2" cy="12.7" r="1.7" fill="#d79cf1"/><circle cx="23.2" cy="12.7" r="1.7" fill="#d79cf1"/><circle cx="11.1" cy="12.5" r=".8" fill="#efd9fb"/><circle cx="23.1" cy="12.5" r=".8" fill="#efd9fb"/></svg></div><span>Vectree</span></div>
<h1>Evolutionary genetics and symmetry patterns in zygomorphic floral development</h1>
<div class="url">vectree.io/c/zygomorphic-floral-genetics</div>
</div>
</body>
</html>
